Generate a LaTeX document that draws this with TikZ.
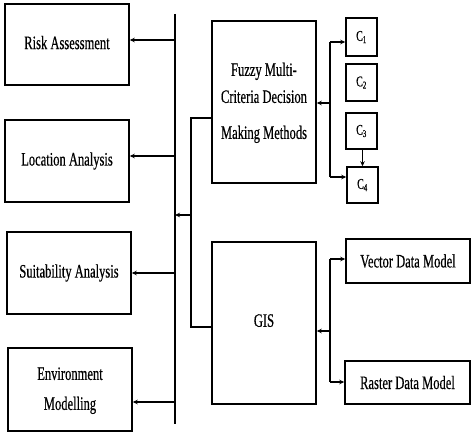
\documentclass[tikz,border=0pt]{standalone}
\usepackage{fontspec}
\setmainfont{Liberation Serif}
\newfontfamily\condfont[FakeStretch=0.66,FakeBold=0.4]{Liberation Serif}
\usetikzlibrary{arrows.meta}
\tikzset{
  box/.style={draw, line width=1.5pt, fill=white, inner sep=0pt, align=center,
    font=\condfont\fontsize{19}{27}\selectfont},
  cbox/.style={box, font=\condfont\fontsize{15}{18}\selectfont},
  conn/.style={line width=1.4pt},
  arr/.style={line width=1.4pt, -{Stealth[length=5pt,width=4.5pt]}},
}
\newcommand{\up}[1]{\raisebox{4pt}{#1}}
\begin{document}
\begin{tikzpicture}[x=1pt,y=-1pt]
\useasboundingbox[fill=white] (0,0) rectangle (474,444);
% left boxes
\node[box, minimum width=124pt, minimum height=81pt] (ra) at (67,44.5) {\up{Risk Assessment}};
\node[box, minimum width=124pt, minimum height=82pt] (la) at (67,161) {\up{Location Analysis}};
\node[box, minimum width=124pt, minimum height=82pt] (sa) at (69,273) {\up{Suitability Analysis}};
\node[box, minimum width=124pt, minimum height=83pt] (em) at (70,389.5) {\raisebox{4pt}{\begin{tabular}{@{}c@{}}Environment\\[3pt]Modelling\end{tabular}}};
% middle boxes
\node[box, minimum width=104pt, minimum height=162pt] (fm) at (264,102) {\raisebox{5pt}{\begin{tabular}{@{}c@{}}Fuzzy Multi-\\[0pt]Criteria Decision\\[9pt]Making Methods\end{tabular}}};
\node[box, minimum width=104pt, minimum height=162pt] (gis) at (264,323) {\raisebox{5pt}{GIS}};
% criteria boxes
\node[cbox, minimum width=31pt, minimum height=38pt] (c1) at (361.5,37) {C\textsubscript{1}};
\node[cbox, minimum width=31pt, minimum height=37pt] (c2) at (361.5,82.5) {C\textsubscript{2}};
\node[cbox, minimum width=31pt, minimum height=36pt] (c3) at (361.5,131) {C\textsubscript{3}};
\node[cbox, minimum width=31pt, minimum height=36pt] (c4) at (362.5,185) {C\textsubscript{4}};
% data model boxes
\node[box, minimum width=124pt, minimum height=44pt] (vdm) at (408,261) {Vector Data Model};
\node[box, minimum width=125pt, minimum height=43pt] (rdm) at (407.5,382.5) {Raster Data Model};
% left bus
\coordinate (bt) at (175,14);
\coordinate (bb) at (175,424);
\draw[conn] (bt) -- (bb);
\coordinate (b1) at (175,40);
\coordinate (b2) at (175,156);
\coordinate (b3) at (175,273);
\coordinate (b4) at (175,402);
\draw[arr] (b1) -- (b1 -| ra.east);
\draw[arr] (b2) -- (b2 -| la.east);
\draw[arr] (b3) -- (b3 -| sa.east);
\draw[arr] (b4) -- (b4 -| em.east);
% fm / gis connector
\coordinate (k1) at (191,118);
\coordinate (k2) at (191,327);
\coordinate (km) at (191,215);
\draw[conn] (k1 -| fm.west) -- (k1) -- (k2) -- (k2 -| gis.west);
\draw[arr] (km) -- (km -| bt);
% criteria connector
\coordinate (r1) at (330,42);
\coordinate (r2) at (330,177);
\coordinate (rm) at (330,103);
\draw[conn] (r1) -- (r2);
\draw[arr] (r1) -- (r1 -| c1.west);
\draw[arr] (r2) -- (r2 -| c4.west);
\draw[arr] (rm) -- (rm -| fm.east);
\draw[arr, line width=0.9pt] (c3.south -| c4.north) -- (c4.north);
% gis connector
\coordinate (g1) at (330,259);
\coordinate (g2) at (330,382);
\coordinate (gm) at (330,331);
\draw[conn] (g1) -- (g2);
\draw[arr] (g1) -- (g1 -| vdm.west);
\draw[arr] (g2) -- (g2 -| rdm.west);
\draw[arr] (gm) -- (gm -| gis.east);
\end{tikzpicture}
\end{document}
